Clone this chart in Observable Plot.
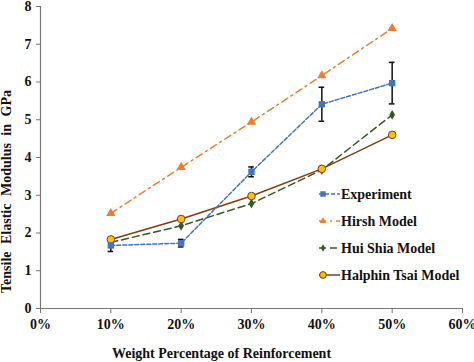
<!DOCTYPE html>
<html><head><meta charset="utf-8">
<script src="https://cdn.jsdelivr.net/npm/d3@7"></script>
<script src="https://cdn.jsdelivr.net/npm/@observablehq/plot@0.6"></script>
<style>
body{margin:0;background:#fff;}
#wrap{position:relative;width:474px;height:362px;}
#wrap svg{position:absolute;left:0;top:0;overflow:visible;}
#wrap svg text{font-family:"Liberation Serif",serif;font-weight:bold;}
</style>
</head><body><div id="wrap"></div>
<script>
const weights = [0.10, 0.20, 0.30, 0.40, 0.50];
const experiment = [1.67, 1.73, 3.62, 5.41, 5.97];
const experimentErr = [0.16, 0.10, 0.13, 0.45, 0.55];
const hirsh = [2.52, 3.74, 4.94, 6.17, 7.42];
const huiShia = [1.75, 2.19, 2.78, 3.67, 5.13];
const halphinTsai = [1.83, 2.37, 2.98, 3.70, 4.60];
const xTicks = [0, 0.1, 0.2, 0.3, 0.4, 0.5, 0.6];
const yTicks = [0, 1, 2, 3, 4, 5, 6, 7, 8];
const seriesNames = ["Experiment", "Hirsh Model", "Hui Shia Model", "Halphin Tsai Model"];
const xLabel = "Weight Percentage of Reinforcement";
const yLabel = "Tensile Elastic Modulus in GPa";

const C = {exp:"#4472C4", hirsh:"#ED7D31", hui:"#375623", hal:"#843C0C", halFill:"#FFC000"};
const mk = (arr) => weights.map((w,i)=>({x:w, y:arr[i]}));
const expData = weights.map((w,i)=>({x:w, y:experiment[i], lo:experiment[i]-experimentErr[i], hi:experiment[i]+experimentErr[i]}));
const font = "Liberation Serif";

const chart = Plot.plot({
  width: 474, height: 362,
  marginLeft: 40, marginRight: 12, marginTop: 6, marginBottom: 54,
  style: {fontFamily: font, fontWeight: "bold", fontSize: "14px", color: "#111", background: "#fff"},
  x: {domain: [0, 0.6]},
  y: {domain: [0, 8]},
  marks: [
    Plot.ruleX([0], {stroke: "#777", strokeWidth: 1.2}),
    Plot.ruleY([0], {stroke: "#777", strokeWidth: 1.2}),
    Plot.axisX({ticks: xTicks, tickFormat: d3.format(".0%"), tickSize: 5, tickPadding: 6, stroke: "#777", label: null, fontSize: 14}),
    Plot.axisY({ticks: yTicks, tickSize: 4, tickPadding: 5, stroke: "#777", label: null}),
    Plot.text([xLabel], {frameAnchor: "bottom", textAnchor: "middle", dx: -30, dy: 49, text: d => d, fontSize: 14, fill: "#111"}),
    Plot.text([yLabel], {frameAnchor: "left", textAnchor: "middle", lineAnchor: "middle", rotate: -90, dx: -34, dy: 34, text: d => d, fontSize: 14, fill: "#111"}),
    Plot.line(mk(hirsh), {x:"x", y:"y", stroke:C.hirsh, strokeWidth:1.5, strokeDasharray:"7,4,2,4"}),
    Plot.line(mk(huiShia), {x:"x", y:"y", stroke:C.hui, strokeWidth:1.5, strokeDasharray:"7,4"}),
    Plot.line(mk(halphinTsai), {x:"x", y:"y", stroke:C.hal, strokeWidth:1.5}),
    Plot.line(expData, {x:"x", y:"y", stroke:C.exp, strokeWidth:1.5, strokeDasharray:"4,2"}),
    Plot.ruleX(expData, {x:"x", y1:"lo", y2:"hi", stroke:"#111", strokeWidth:1.5}),
    Plot.ruleY(expData, {y:"lo", x1:d=>d.x-0.004, x2:d=>d.x+0.004, stroke:"#111", strokeWidth:1.5}),
    Plot.ruleY(expData, {y:"hi", x1:d=>d.x-0.004, x2:d=>d.x+0.004, stroke:"#111", strokeWidth:1.5}),
    Plot.dot(mk(hirsh), {x:"x", y:"y", symbol:"triangle", fill:C.hirsh, r:3.5}),
    Plot.dot(mk(huiShia), {x:"x", y:"y", symbol:"diamond", fill:C.hui, r:3}),
    Plot.dot(mk(halphinTsai), {x:"x", y:"y", symbol:"circle", fill:C.halFill, stroke:C.hal, strokeWidth:1, r:3.8}),
    Plot.dot(expData, {x:"x", y:"y", symbol:"square", fill:C.exp, r:3.6})
  ]
});
// wider word spacing on the rotated y label, as in the reference
chart.querySelectorAll("text").forEach(t => { if (t.textContent === yLabel) t.setAttribute("word-spacing", "4"); });
document.getElementById("wrap").appendChild(chart);

// legend overlay
const legendStyles = [
  {stroke:C.exp, dash:"4,2", sym:d3.symbolSquare, fill:C.exp, size:30, sw:0},
  {stroke:C.hirsh, dash:"7,4,2,4", sym:d3.symbolTriangle, fill:C.hirsh, size:20, sw:0},
  {stroke:C.hui, dash:"7,4", sym:d3.symbolDiamond, fill:C.hui, size:16, sw:0},
  {stroke:C.hal, dash:null, sym:d3.symbolCircle, fill:C.halFill, size:36, sw:1}
];
const lg = d3.select("#wrap").append("svg").attr("width",474).attr("height",362).style("pointer-events","none");
seriesNames.forEach((name,i)=>{
  const s = legendStyles[i];
  const y = 194 + i*27;
  const g = lg.append("g");
  g.append("line").attr("x1",319).attr("x2",340).attr("y1",y).attr("y2",y)
    .attr("stroke",s.stroke).attr("stroke-width",1.5).attr("stroke-dasharray",s.dash);
  g.append("path").attr("d", d3.symbol(s.sym, s.size)()).attr("transform",`translate(${323},${y})`)
    .attr("fill",s.fill).attr("stroke",s.sw? C.hal : "none");
  g.append("text").attr("x",341).attr("y",y).attr("dy","0.35em").text(name)
    .attr("font-size",14).attr("fill","#111");
});
</script></body></html>
